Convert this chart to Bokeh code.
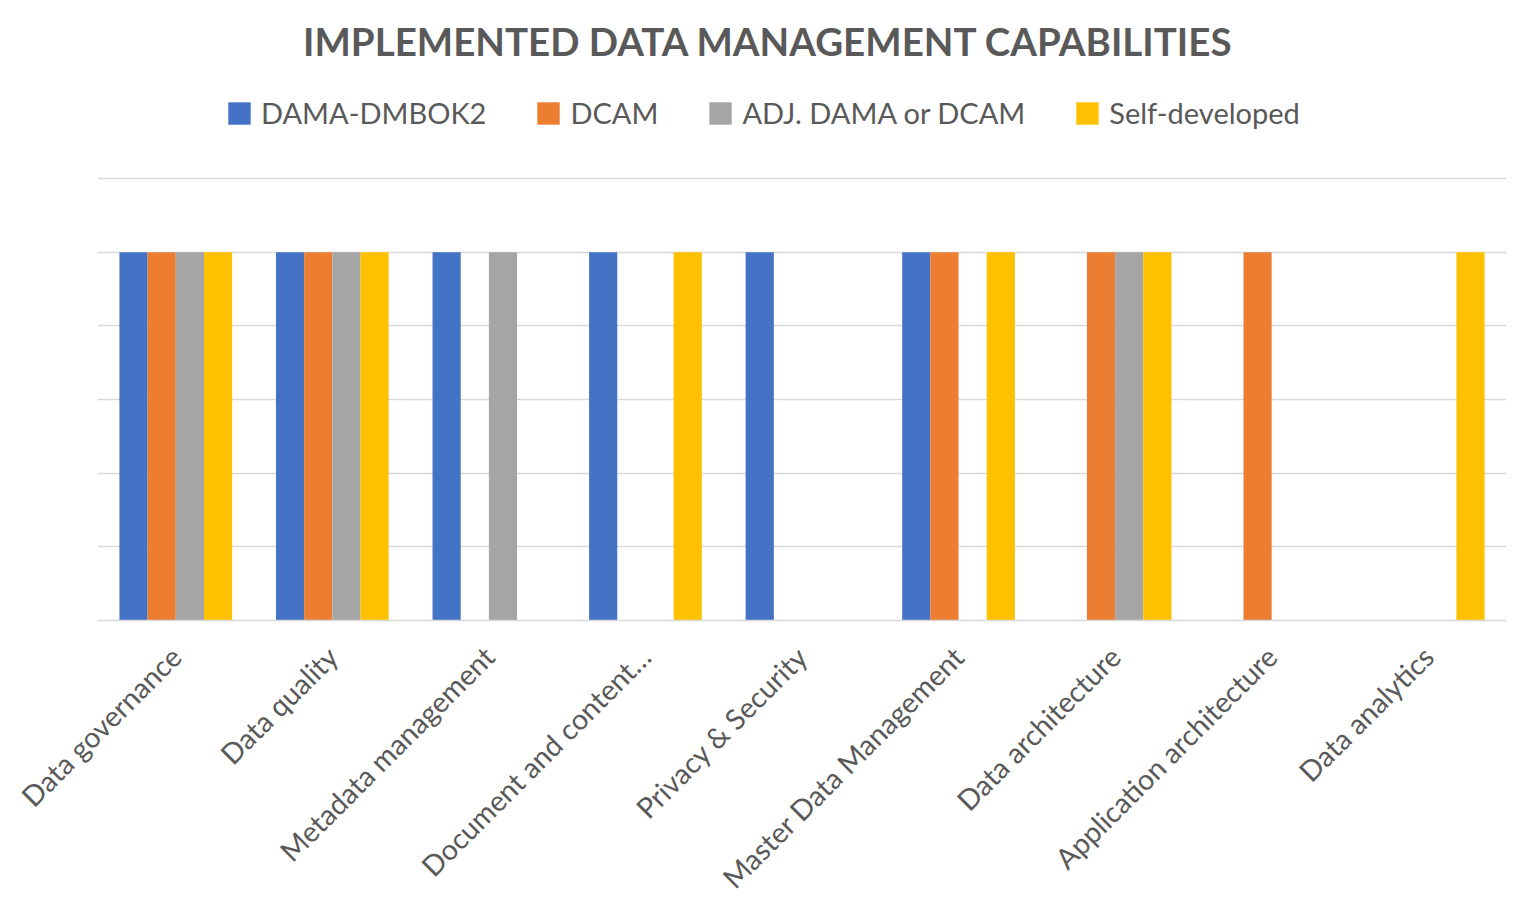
import math
from bokeh.plotting import figure
from bokeh.models import FactorRange, Range1d, FixedTicker, Legend, LegendItem, Label
from bokeh.transform import dodge
from bokeh.embed import file_html
from bokeh.resources import INLINE

categories = ["Data governance", "Data quality", "Metadata management",
              "Document and content…", "Privacy & Security",
              "Master Data Management", "Data architecture",
              "Application architecture", "Data analytics"]
series_names = ["DAMA-DMBOK2", "DCAM", "ADJ. DAMA or DCAM", "Self-developed"]
dama = [1, 1, 1, 1, 1, 1, 0, 0, 0]
dcam = [1, 1, 0, 0, 0, 1, 1, 1, 0]
adj = [1, 1, 1, 0, 0, 0, 1, 0, 0]
selfdev = [1, 1, 0, 1, 0, 1, 1, 0, 1]
grid_ticks = [0, 0.2, 0.4, 0.6, 0.8, 1.0, 1.2]

colors = ["#4472C4", "#ED7D31", "#A5A5A5", "#FFC000"]
TXT = "#595959"

W, H = 1520, 910
frame_bottom = 620  # canvas px
frame_grid_top = 178
y_end = 1.2 + frame_grid_top * 1.2 / (frame_bottom - frame_grid_top)

p = figure(width=W, height=H, x_range=FactorRange(*categories, range_padding=0),
           y_range=Range1d(0, y_end), output_backend="svg", toolbar_location=None,
           min_border_left=97, min_border_right=14, min_border_top=0,
           min_border_bottom=H - frame_bottom, outline_line_color=None)
p.background_fill_color = "white"
p.border_fill_color = "white"

data = dict(cat=categories, dama=dama, dcam=dcam, adj=adj, selfdev=selfdev)
keys = ["dama", "dcam", "adj", "selfdev"]
offsets = [-0.27, -0.09, 0.09, 0.27]
rs = []
for k, off, c in zip(keys, offsets, colors):
    r = p.vbar(x=dodge("cat", off, range=p.x_range), top=k, width=0.18,
               source=data, fill_color=c, line_color=None)
    rs.append(r)

p.yaxis.visible = False
p.ygrid.ticker = FixedTicker(ticks=grid_ticks)
p.ygrid.grid_line_color = "#d9d9d9"
p.ygrid.grid_line_width = 1.5
p.xgrid.grid_line_color = None

xa = p.xaxis[0]
xa.axis_line_color = "#d9d9d9"
xa.axis_line_width = 1.5
xa.major_tick_line_color = None
xa.minor_tick_line_color = None
xa.major_label_orientation = math.pi / 4
xa.major_label_text_font = "Lato"
xa.major_label_text_font_size = "28.5px"
xa.major_label_text_color = TXT
xa.major_label_standoff = 25

legend = Legend(items=[LegendItem(label=n, renderers=[r]) for n, r in zip(series_names, rs)],
                orientation="horizontal", location=(128, 490),
                glyph_width=28, glyph_height=28, label_standoff=8, spacing=48,
                padding=0, margin=0, border_line_color=None, background_fill_alpha=0,
                label_text_font="Lato", label_text_font_size="29px",
                label_text_color=TXT)
p.add_layout(legend, "center")

title = Label(x=671, y=580, x_units="screen", y_units="screen",
              text="IMPLEMENTED DATA MANAGEMENT CAPABILITIES",
              text_font="Lato", text_font_style="bold", text_font_size="38.5px",
              text_color=TXT, text_align="center", text_baseline="middle")
p.add_layout(title)

open("out.html", "w").write(file_html(p, INLINE))
